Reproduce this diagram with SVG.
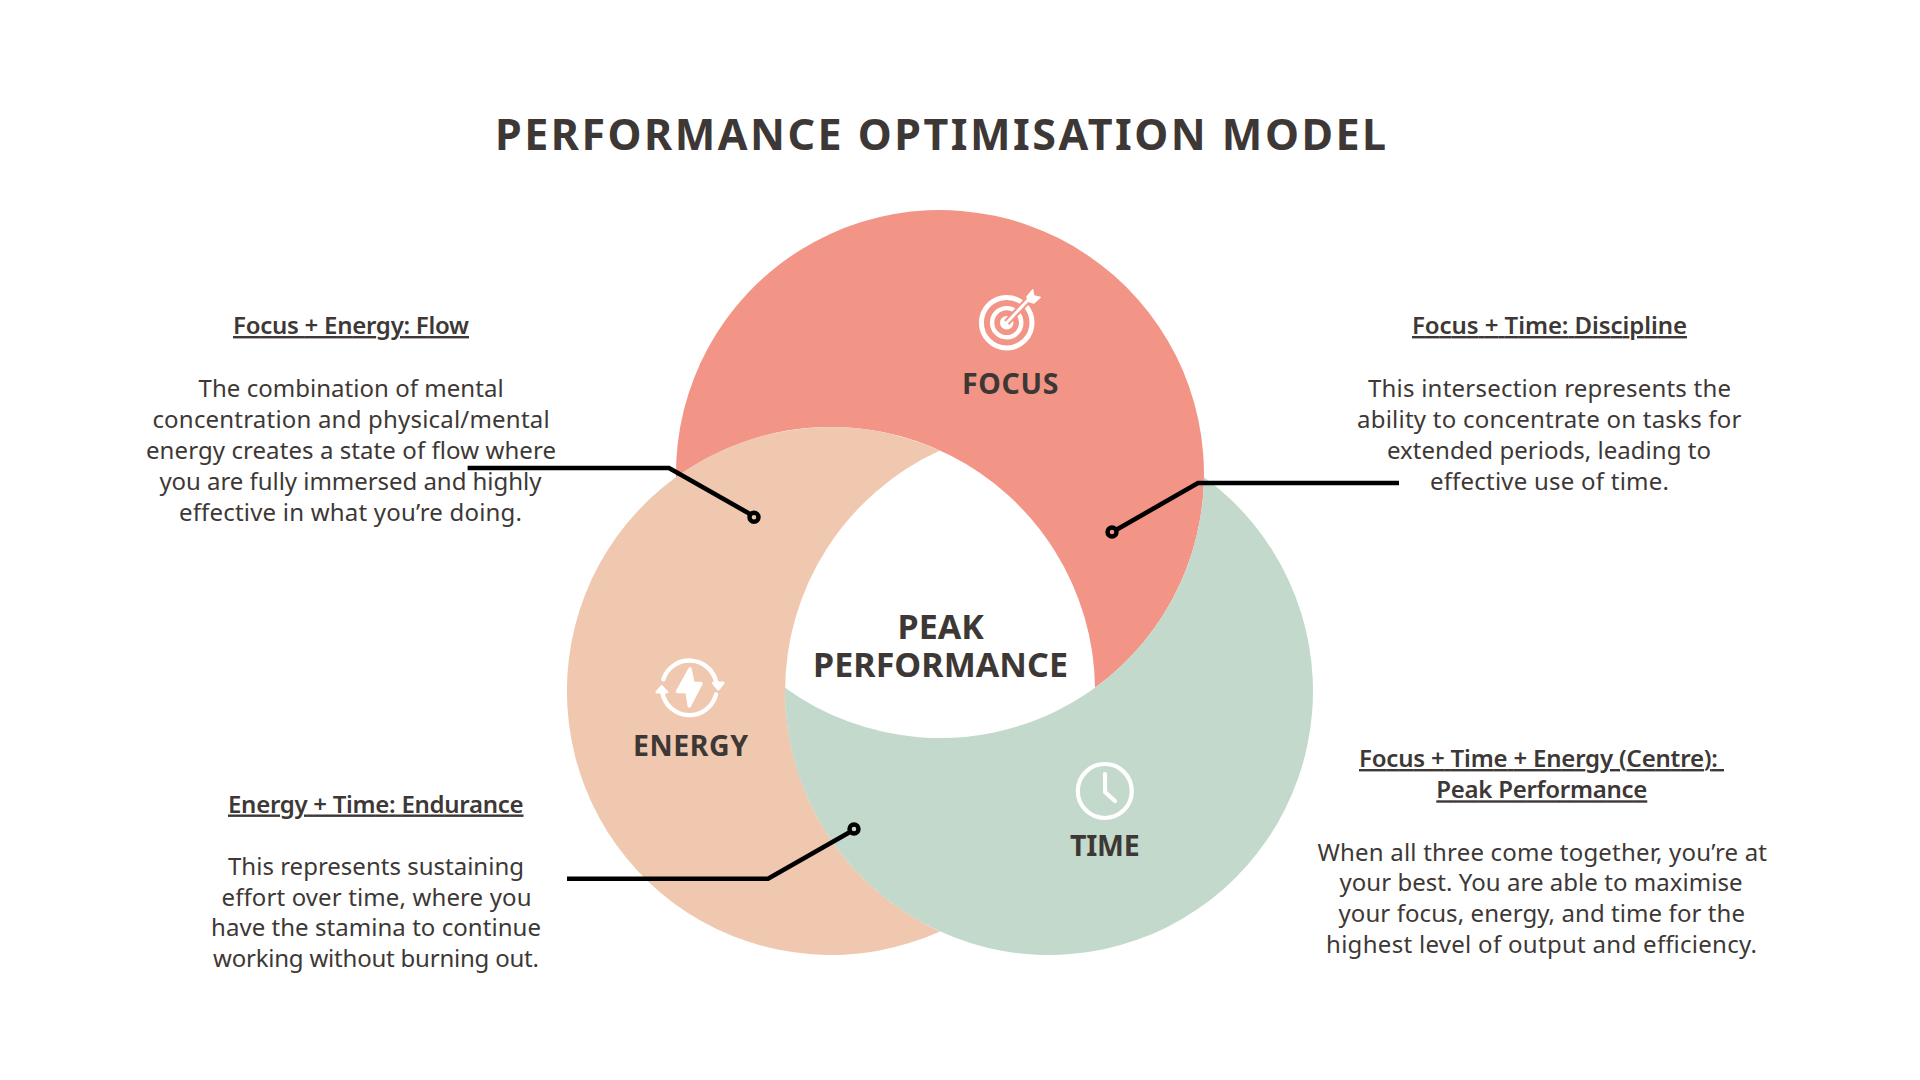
<svg xmlns="http://www.w3.org/2000/svg" width="1920" height="1080" viewBox="0 0 1920 1080">
<style>
text{font-family:"Noto Sans","Open Sans","Liberation Sans",sans-serif;fill:#3d3835}
.title{font-size:43px;font-weight:700}
.lab{font-size:28.5px;font-weight:700}
.peak{font-size:34px;font-weight:700}
.head{font-size:24px;font-weight:600;text-decoration:underline}
.body{font-size:24px;font-weight:400}
.ic{fill:none;stroke:#fff;stroke-linecap:round}
.wf{fill:#fff;stroke:#fff;stroke-linejoin:round}
.conn{fill:none;stroke:#000;stroke-width:4.6;stroke-linejoin:miter}
.dot{stroke:#000;stroke-width:4.4}
</style>
<rect width="1920" height="1080" fill="#fff"/>
<g id="title"><text class="title" x="495" y="149.5" textLength="891">PERFORMANCE OPTIMISATION MODEL</text></g>
<g id="focus">
<path fill="#f29586" d="M676,477.3A264,264 0 1 1 1095,687.7A264,264 0 0 0 676,477.3Z"/>
<circle class="ic" cx="1006.7" cy="322.7" r="25.3" stroke-width="5"/>
<circle class="ic" cx="1006.7" cy="322.7" r="14.6" stroke-width="4.4"/>
<circle cx="1006.7" cy="322.7" r="6.8" fill="#fff"/>
<path d="M1006.7,322.7L1028,300" fill="none" stroke="#f29586" stroke-width="7"/>
<path class="ic" d="M1006.7,322.7L1028,300" stroke-width="3"/>
<polygon class="wf" stroke-width="1" points="1026.7,296.7 1032.7,289.3 1034,295.7 1040.7,297.3 1034,303.3 1028.3,301.7"/>
<text class="lab" x="962" y="393.7" textLength="96.5">FOCUS</text>
</g>
<g id="energy">
<path fill="#efc8af" d="M940,450.6A264,264 0 1 0 940,931.4A264,264 0 0 1 940,450.6Z"/>
<path class="ic" stroke-width="4.4" d="M663.3,679.3A27.5,27.5 0 0 1 716.3,682.5"/>
<path class="ic" stroke-width="4.4" d="M662.3,692.5A27.5,27.5 0 0 0 716,694.5"/>
<polygon class="wf" stroke-width="3" points="713.5,683 718.3,689 723,683"/>
<polygon class="wf" stroke-width="3" points="657,692 661.7,686.7 666.8,692"/>
<polygon class="wf" stroke-width="3.5" points="690,669 677.5,691.5 687,691.5 689.3,706 701,683.5 693,683.5"/>
<text class="lab" x="633" y="755.7" textLength="115">ENERGY</text>
</g>
<g id="time">
<path fill="#c2d9cc" d="M1204,477.3A264,264 0 1 1 785,687.7A264,264 0 0 0 1204,477.3Z"/>
<circle class="ic" cx="1104.8" cy="791" r="27" stroke-width="4.2"/>
<path class="ic" stroke-width="4.2" stroke-linejoin="round" d="M1105,774V792L1115,801"/>
<text class="lab" x="1070" y="856" textLength="69.6">TIME</text>
</g>
<g id="peak">
<text class="peak"><tspan x="897.5" y="638.5" textLength="86.4">PEAK</tspan><tspan x="813" y="677.3" textLength="255">PERFORMANCE</tspan></text>
</g>
<g id="note-flow">
<text class="head" x="233" y="334" textLength="236">Focus + Energy: Flow</text>
<text class="body" x="198.6" y="396.6" textLength="305">The combination of mental</text>
<text class="body" x="152.4" y="427.6" textLength="397.2">concentration and physical/mental</text>
<text class="body" x="146" y="458.6" textLength="410">energy creates a state of flow where</text>
<text class="body" x="159.4" y="489.6" textLength="382">you are fully immersed and highly</text>
<text class="body" x="179" y="520.6" textLength="343">effective in what you’re doing.</text>
</g>
<g id="note-discipline">
<text class="head" x="1412" y="334" textLength="275">Focus + Time: Discipline</text>
<text class="body" x="1368" y="396.6" textLength="363">This intersection represents the</text>
<text class="body" x="1357" y="427.6" textLength="384.5">ability to concentrate on tasks for</text>
<text class="body" x="1387" y="458.6" textLength="324">extended periods, leading to</text>
<text class="body" x="1430" y="489.6" textLength="239">effective use of time.</text>
</g>
<g id="note-endurance">
<text class="head" x="228" y="812.5" textLength="295.5">Energy + Time: Endurance</text>
<text class="body" x="228" y="874.5" textLength="296">This represents sustaining</text>
<text class="body" x="221.5" y="905.5" textLength="310">effort over time, where you</text>
<text class="body" x="211" y="936" textLength="330">have the stamina to continue</text>
<text class="body" x="213" y="967" textLength="326">working without burning out.</text>
</g>
<g id="note-peak">
<text class="head" x="1359" y="767" textLength="365">Focus + Time + Energy (Centre):&#160;</text>
<text class="head" x="1436.3" y="798.3" textLength="211">Peak Performance</text>
<text class="body" x="1317.5" y="860.5" textLength="449.5">When all three come together, you’re at</text>
<text class="body" x="1339.5" y="891.3" textLength="403">your best. You are able to maximise</text>
<text class="body" x="1338.5" y="922.3" textLength="406.5">your focus, energy, and time for the</text>
<text class="body" x="1326" y="953.3" textLength="431">highest level of output and efficiency.</text>
</g>
<g id="connectors">
<path class="conn" d="M467.6,468H669L750,514"/>
<circle class="dot" cx="754" cy="517.2" r="4.5" fill="#efc8af"/>
<path class="conn" d="M1399,483H1198L1116,530"/>
<circle class="dot" cx="1112" cy="532" r="4.5" fill="#f29586"/>
<path class="conn" d="M567,878.7H768L850,832"/>
<circle class="dot" cx="854" cy="829" r="4.5" fill="#c2d9cc"/>
</g>
</svg>
